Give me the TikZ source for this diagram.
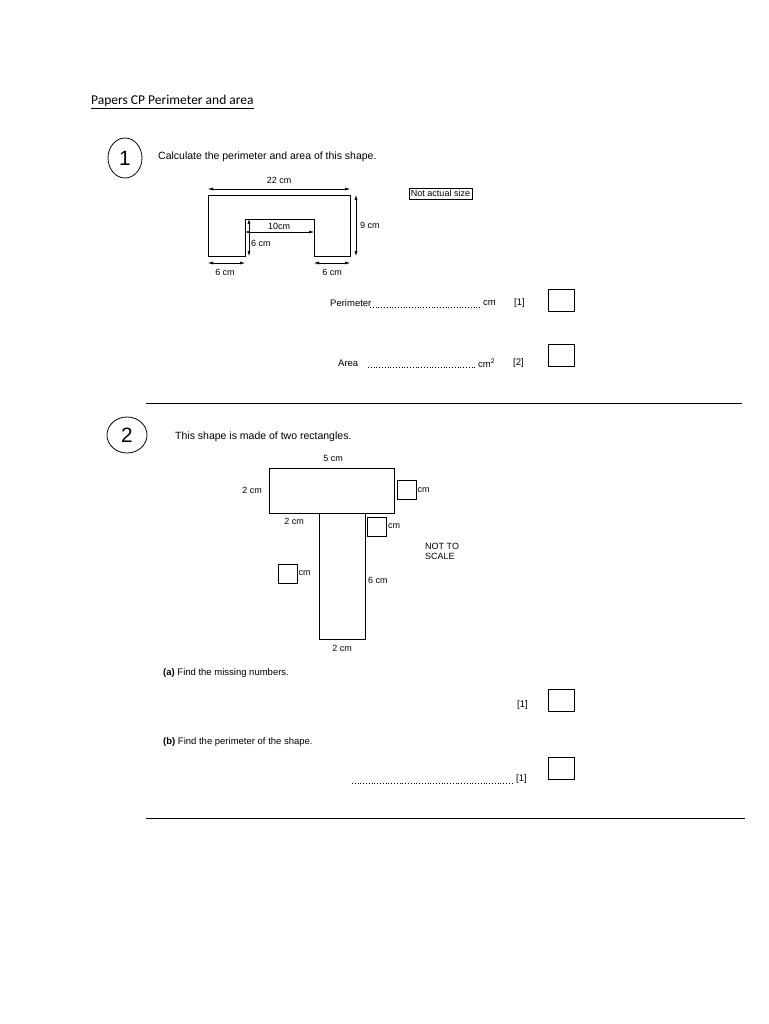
\documentclass[tikz,border=0pt]{standalone}
\usepackage{fontspec}
\setmainfont{Liberation Sans}
\newfontfamily\calib{Carlito}
\usetikzlibrary{arrows.meta}
\begin{document}
\begin{tikzpicture}[x=1pt,y=-1pt,
  lbl/.style={font=\fontsize{9}{10}\selectfont,inner sep=1pt},
  sm/.style={font=\fontsize{9.5}{11}\selectfont},
  txt/.style={font=\fontsize{10.5}{12}\selectfont,anchor=west,inner sep=0pt},
  dim/.style={{Latex[length=5pt,width=3pt]}-{Latex[length=5pt,width=3pt]},line width=0.5pt},
  shp/.style={draw,line width=0.9pt},
  mbox/.style={draw,line width=0.8pt,minimum width=26pt,minimum height=22pt,inner sep=0pt},
  sbox/.style={draw,line width=0.8pt,minimum width=19pt,minimum height=19pt,inner sep=0pt},
  dots/.style={dotted,line width=0.8pt}]
\useasboundingbox (0,0) rectangle (768,1024);
\node[anchor=west,inner sep=0pt,font=\calib\fontsize{13.5}{15}\selectfont] (title) at (91,102) {\underline{Papers CP Perimeter and area}};
% Q1
\draw[line width=0.8pt] (125,158) ellipse (17 and 20);
\node[font=\huge] (n1) at (125,158) {1};
\node[txt] (q1) at (158,157) {Calculate the perimeter and area of this shape.};
\draw[shp] (208,195) -- (350,195) -- (350,256) -- (314,256) -- (314,219) -- (245,219) -- (245,256) -- (208,256) -- cycle;
\coordinate (a1) at (208,189); \coordinate (a2) at (350,189);
\draw[dim] (a1) -- (a2);
\node[lbl] (l22) at (279,180) {22 cm};
\coordinate (b1) at (356,195); \coordinate (b2) at (356,256);
\draw[dim] (b1) -- (b2);
\node[lbl,anchor=west] (l9) at (359,225) {9 cm};
\coordinate (c1) at (245,232); \coordinate (c2) at (314,232);
\draw[dim] (c1) -- (c2);
\node[lbl] (l10) at (279,226) {10cm};
\coordinate (d1) at (249,219); \coordinate (d2) at (249,256);
\draw[dim] (d1) -- (d2);
\node[lbl,anchor=west] (l6) at (250,243) {6 cm};
\coordinate (e1) at (208,263); \coordinate (e2) at (245,263);
\draw[dim] (e1) -- (e2);
\node[lbl] (l6a) at (225,272) {6 cm};
\coordinate (f1) at (314,263); \coordinate (f2) at (350,263);
\draw[dim] (f1) -- (f2);
\node[lbl] (l6b) at (332,272) {6 cm};
\node[draw,line width=0.6pt,lbl,inner sep=2pt] (nas) at (440.5,193.5) {Not actual size};
\node[txt,sm] (per) at (330,303) {Perimeter};
\coordinate (p1) at (370,307); \coordinate (p2) at (482,307);
\draw[dots] (p1) -- (p2);
\node[txt,sm] (pcm) at (483,303) {cm};
\node[txt,sm] (pm) at (514,303) {[1]};
\node[mbox] (pb) at (561,300) {};
\node[txt,sm] (ar) at (338,363) {Area};
\coordinate (r1) at (368,367); \coordinate (r2) at (477,367);
\draw[dots] (r1) -- (r2);
\node[txt,sm] (acm) at (478,363) {cm\textsuperscript{2}};
\node[txt,sm] (am) at (513,363) {[2]};
\node[mbox] (ab) at (561,355.5) {};
\coordinate (h1) at (146,403); \coordinate (h2) at (742,403);
\draw[line width=0.7pt] (h1) -- (h2);
% Q2
\draw[line width=0.8pt] (127,435) ellipse (20 and 18);
\node[font=\huge] (n2) at (127,435) {2};
\node[txt] (q2) at (175,437) {This shape is made of two rectangles.};
\draw[shp] (269,468) rectangle (394,513);
\draw[shp] (319,513) rectangle (365,639);
\node[lbl] (s5) at (333,458) {5 cm};
\node[lbl] (s2a) at (252,490) {2 cm};
\node[lbl] (s2b) at (294,521) {2 cm};
\node[lbl,anchor=west] (s6) at (367,580) {6 cm};
\node[lbl] (s2c) at (342,648) {2 cm};
\node[sbox] (bx1) at (406.5,490) {};
\node[lbl,anchor=west] (c1t) at (bx1.east) {cm};
\node[sbox] (bx2) at (377,526.5) {};
\node[lbl,anchor=west] (c2t) at (bx2.east) {cm};
\node[sbox] (bx3) at (287.5,573.5) {};
\node[lbl,anchor=west] (c3t) at (bx3.east) {cm};
\node[lbl,align=left,anchor=west] (nts) at (424,551) {NOT TO\\SCALE};
\node[txt,sm] (qa) at (163,673) {\textbf{(a)} Find the missing numbers.};
\node[txt,sm] (ma) at (517,705) {[1]};
\node[mbox] (ba) at (561.5,700) {};
\node[txt,sm] (qb) at (163,742) {\textbf{(b)} Find the perimeter of the shape.};
\coordinate (g1) at (352,783); \coordinate (g2) at (512,783);
\draw[dots] (g1) -- (g2);
\node[txt,sm] (mb) at (516,779) {[1]};
\node[mbox] (bb) at (561.5,768) {};
\coordinate (k1) at (146,818); \coordinate (k2) at (745,818);
\draw[line width=0.7pt] (k1) -- (k2);
\end{tikzpicture}
\end{document}
